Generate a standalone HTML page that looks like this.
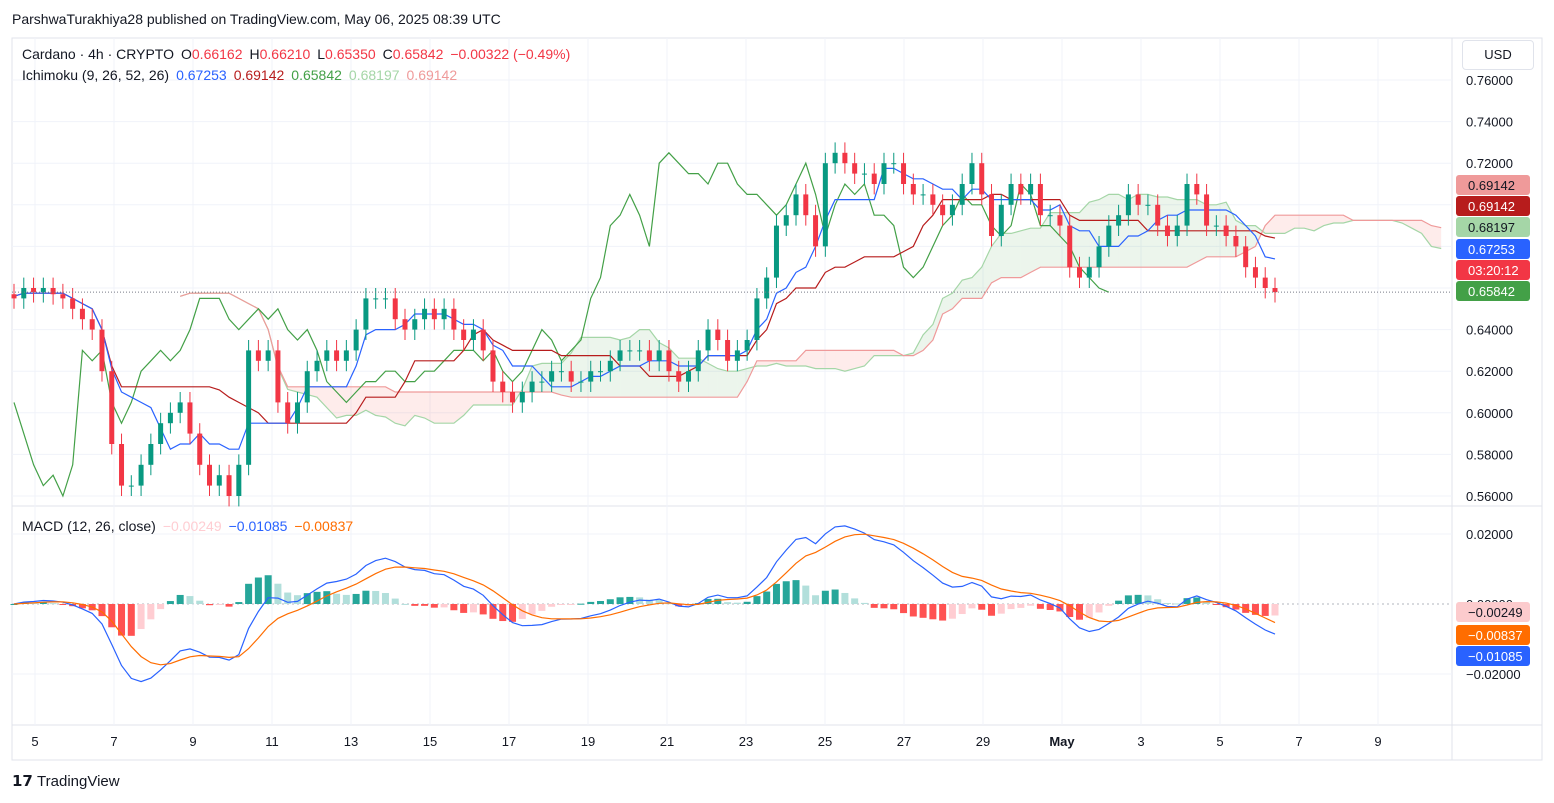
<!DOCTYPE html>
<html><head><meta charset="utf-8">
<style>
body{margin:0;background:#fff;font-family:"Liberation Sans",sans-serif;}
#wrap{position:relative;width:1554px;height:803px;overflow:hidden;}
.lbl{position:absolute;font-size:14px;}
.g{margin-left:7px}
</style></head>
<body>
<div id="wrap">
<div class="lbl" style="left:12px;top:11px;color:#131722;font-size:14px">ParshwaTurakhiya28 published on TradingView.com, May 06, 2025 08:39 UTC</div>
<svg id="chart" width="1554" height="803" style="position:absolute;left:0;top:0"></svg>
<div class="lbl" style="left:22px;top:46px;color:#131722">Cardano · 4h · CRYPTO<span class="g"></span>O<span style="color:#f23645">0.66162</span><span class="g"></span>H<span style="color:#f23645">0.66210</span><span class="g"></span>L<span style="color:#f23645">0.65350</span><span class="g"></span>C<span style="color:#f23645">0.65842<span class="g"></span>−0.00322 (−0.49%)</span></div>
<div class="lbl" style="left:22px;top:67px;color:#131722">Ichimoku (9, 26, 52, 26)<span class="g"></span><span style="color:#2962ff">0.67253</span><span class="g"></span><span style="color:#b71c1c">0.69142</span><span class="g"></span><span style="color:#43a047">0.65842</span><span class="g"></span><span style="color:#a5d6a7">0.68197</span><span class="g"></span><span style="color:#ef9a9a">0.69142</span></div>
<div class="lbl" style="left:22px;top:518px;color:#131722">MACD (12, 26, close)<span class="g"></span><span style="color:#ffcdd2">−0.00249</span><span class="g"></span><span style="color:#2962ff">−0.01085</span><span class="g"></span><span style="color:#ff6d00">−0.00837</span></div>
<div class="lbl" style="left:1462px;top:40px;width:70px;height:28px;border:1px solid #e0e3eb;border-radius:4px;line-height:28px;text-align:center;color:#131722;font-size:13px">USD</div>
<div class="lbl" style="left:12px;top:772px;color:#131722;font-size:15px;font-weight:bold">𝟭𝟳 <span style="font-weight:normal">TradingView</span></div>
</div>
<script>
const closes=[0.655,0.66,0.658,0.66,0.657,0.655,0.65,0.645,0.64,0.62,
0.585,0.565,0.565,0.575,0.585,0.595,0.60,0.605,0.59,0.575,
0.565,0.57,0.56,0.575,0.63,0.625,0.63,0.605,0.595,0.605,
0.62,0.625,0.63,0.625,0.63,0.64,0.655,0.655,0.655,0.645,
0.64,0.645,0.65,0.645,0.65,0.64,0.635,0.64,0.63,0.615,
0.61,0.605,0.61,0.615,0.615,0.62,0.62,0.615,0.615,0.62,
0.62,0.625,0.63,0.63,0.63,0.625,0.63,0.62,0.615,0.62,
0.63,0.64,0.635,0.625,0.63,0.635,0.655,0.665,0.69,0.695,
0.705,0.695,0.68,0.72,0.725,0.72,0.715,0.715,0.71,0.72,
0.72,0.71,0.705,0.705,0.70,0.695,0.70,0.71,0.72,0.705,
0.685,0.70,0.71,0.705,0.71,0.695,0.695,0.69,0.67,0.665,
0.67,0.68,0.69,0.695,0.705,0.70,0.70,0.69,0.685,0.69,
0.71,0.705,0.69,0.69,0.685,0.68,0.67,0.665,0.66,0.658];
const priceTicks=[0.76,0.74,0.72,0.70,0.68,0.66,0.64,0.62,0.60,0.58,0.56];
const macdTicks=[0.02,0,-0.02];
const dateLabels=['5','7','9','11','13','15','17','19','21','23','25','27','29','May','3','5','7','9'];
const dateX0=35, dateStep=79;

const svg=document.getElementById('chart');
const NS='http://www.w3.org/2000/svg';
function mk(tag,attrs,parent){const e=document.createElementNS(NS,tag);for(const k in attrs)e.setAttribute(k,attrs[k]);(parent||svg).appendChild(e);return e;}
const X0=14,X1=1275,N=closes.length,step=(X1-X0)/(N-1);
const xs=i=>X0+i*step;
const yP=p=>80+(0.76-p)*2080;
const yM=v=>604-v*3500;
const L=12,R=1452;

let e=mk('rect',{x:12,y:38,width:1530,height:722,fill:'none',stroke:'#e0e3eb'});

mk('line',{x1:12,x2:1542,y1:506,y2:506,stroke:'#e0e3eb'});
mk('line',{x1:R,x2:R,y1:38,y2:760,stroke:'#e0e3eb'});
mk('line',{x1:12,x2:1542,y1:725,y2:725,stroke:'#e0e3eb'});

priceTicks.forEach(p=>{const y=yP(p);
 mk('line',{x1:L,x2:R,y1:y,y2:y,stroke:'#f0f3fa'});
 const t=mk('text',{x:1466,y:y+5,'font-size':13,fill:'#131722','font-family':'Liberation Sans'});t.textContent=p.toFixed(5);
 });
macdTicks.forEach(v=>{const y=yM(v);
 mk('line',{x1:L,x2:R,y1:y,y2:y,stroke:v===0?'#b2b5be':'#f0f3fa','stroke-dasharray':v===0?'2,3':''});
 const t=mk('text',{x:1466,y:y+5,'font-size':13,fill:'#131722','font-family':'Liberation Sans'});t.textContent=(v<0?'−':'')+Math.abs(v).toFixed(5);
 });
dateLabels.forEach((d,i)=>{const x=dateX0+i*dateStep;
 mk('line',{x1:x,x2:x,y1:38,y2:725,stroke:'#f0f3fa'});
 const t=mk('text',{x:x,y:746,'font-size':13,fill:'#131722','text-anchor':'middle','font-weight':d==='May'?'bold':'normal','font-family':'Liberation Sans'});t.textContent=d;
 });

const opens=closes.map((c,i)=>i?closes[i-1]:c+0.002);
const highs=closes.map((c,i)=>Math.max(c,opens[i])+0.005);
const lows=closes.map((c,i)=>Math.min(c,opens[i])-0.005);
function hh(a,i,n){let m=-1e9;for(let k=Math.max(0,i-n+1);k<=i;k++)m=Math.max(m,a[k]);return m;}
function ll(a,i,n){let m=1e9;for(let k=Math.max(0,i-n+1);k<=i;k++)m=Math.min(m,a[k]);return m;}
const pT=6,pK=17,pS=35,shift=17;
const tenkan=closes.map((_,i)=>(hh(highs,i,pT)+ll(lows,i,pT))/2);
const kijun=closes.map((_,i)=>(hh(highs,i,pK)+ll(lows,i,pK))/2);
const spanA=tenkan.map((t,i)=>(t+kijun[i])/2);
const spanB=closes.map((_,i)=>(hh(highs,i,pS)+ll(lows,i,pS))/2);

const cloudG=mk('g',{});
for(let i=0;i<N-1;i++){
 const x1=xs(i+shift),x2=xs(i+1+shift);
 const a1=yP(spanA[i]),a2=yP(spanA[i+1]),b1=yP(spanB[i]),b2=yP(spanB[i+1]);
 const up=(spanA[i]+spanA[i+1])>=(spanB[i]+spanB[i+1]);
 mk('polygon',{points:`${x1},${a1} ${x2},${a2} ${x2},${b2} ${x1},${b1}`,fill:up?'rgba(67,160,71,0.1)':'rgba(244,67,54,0.1)'},cloudG);
}

function line(arr,off,col,name,yf){let d='';arr.forEach((v,i)=>{d+=(i?'L':'M')+xs(i+off).toFixed(1)+','+(yf||yP)(v).toFixed(1);});
 const p=mk('path',{d,fill:'none',stroke:col,'stroke-width':1.2});}
line(spanA,shift,'#a5d6a7','leading-span-a');
line(spanB,shift,'#ef9a9a','leading-span-b');
line(closes.slice(shift),0,'#43a047','lagging-span');
line(kijun,0,'#b71c1c','kijun-line');
line(tenkan,0,'#2962ff','tenkan-line');

const cg=mk('g',{});
closes.forEach((c,i)=>{const o=opens[i],col=c>=o?'#089981':'#f23645',x=xs(i);
 mk('line',{x1:x,x2:x,y1:yP(highs[i]),y2:yP(lows[i]),stroke:col},cg);
 const r=mk('rect',{x:x-2.5,y:yP(Math.max(o,c)),width:5,height:Math.max(1,Math.abs(yP(o)-yP(c))),fill:col},cg);
 });
mk('line',{x1:L,x2:R,y1:yP(closes[N-1]),y2:yP(closes[N-1]),stroke:'#787b86','stroke-dasharray':'1,2'});

function ema(a,n){const k=2/(n+1);let r=[];a.forEach((v,i)=>r.push(i?v*k+r[i-1]*(1-k):v));return r;}
const e1=ema(closes,8),e2=ema(closes,17);
const macd=e1.map((v,i)=>v-e2[i]);const sig=ema(macd,6);
const hg=mk('g',{});
macd.forEach((m,i)=>{const h=m-sig[i],ph=i?macd[i-1]-sig[i-1]:h;
 const col=h>=0?(h>=ph?'#26a69a':'#b2dfdb'):(h<ph?'#ff5252':'#ffcdd2');
 const y1=yM(Math.max(h,0)),y2=yM(Math.min(h,0));
 mk('rect',{x:xs(i)-3.5,y:y1,width:7,height:Math.max(1,y2-y1),fill:col},hg);});
line(macd,0,'#2962ff','macd-line',yM);
line(sig,0,'#ff6d00','signal-line',yM);

function tag(y,text,bg,fg,name){const g=mk('g',{});
 mk('rect',{x:1456,y:y-10,width:74,height:20,rx:3,fill:bg},g);
 const t=mk('text',{x:1468,y:y+5,'font-size':13,fill:fg,'font-family':'Liberation Sans'},g);t.textContent=text;}
tag(185,'0.69142','#ef9a9a','#131722','span-b-tag');
tag(206,'0.69142','#b71c1c','#fff','kijun-tag');
tag(227,'0.68197','#a5d6a7','#131722','span-a-tag');
tag(249,'0.67253','#2962ff','#fff','tenkan-tag');
tag(270,'03:20:12','#f23645','#fff','countdown-tag');
tag(291,'0.65842','#43a047','#fff','last-price-tag');
tag(612,'−0.00249','#fccbcd','#131722','histogram-tag');
tag(635,'−0.00837','#ff6d00','#fff','signal-tag');
tag(656,'−0.01085','#2962ff','#fff','macd-tag');
</script>
</body></html>
